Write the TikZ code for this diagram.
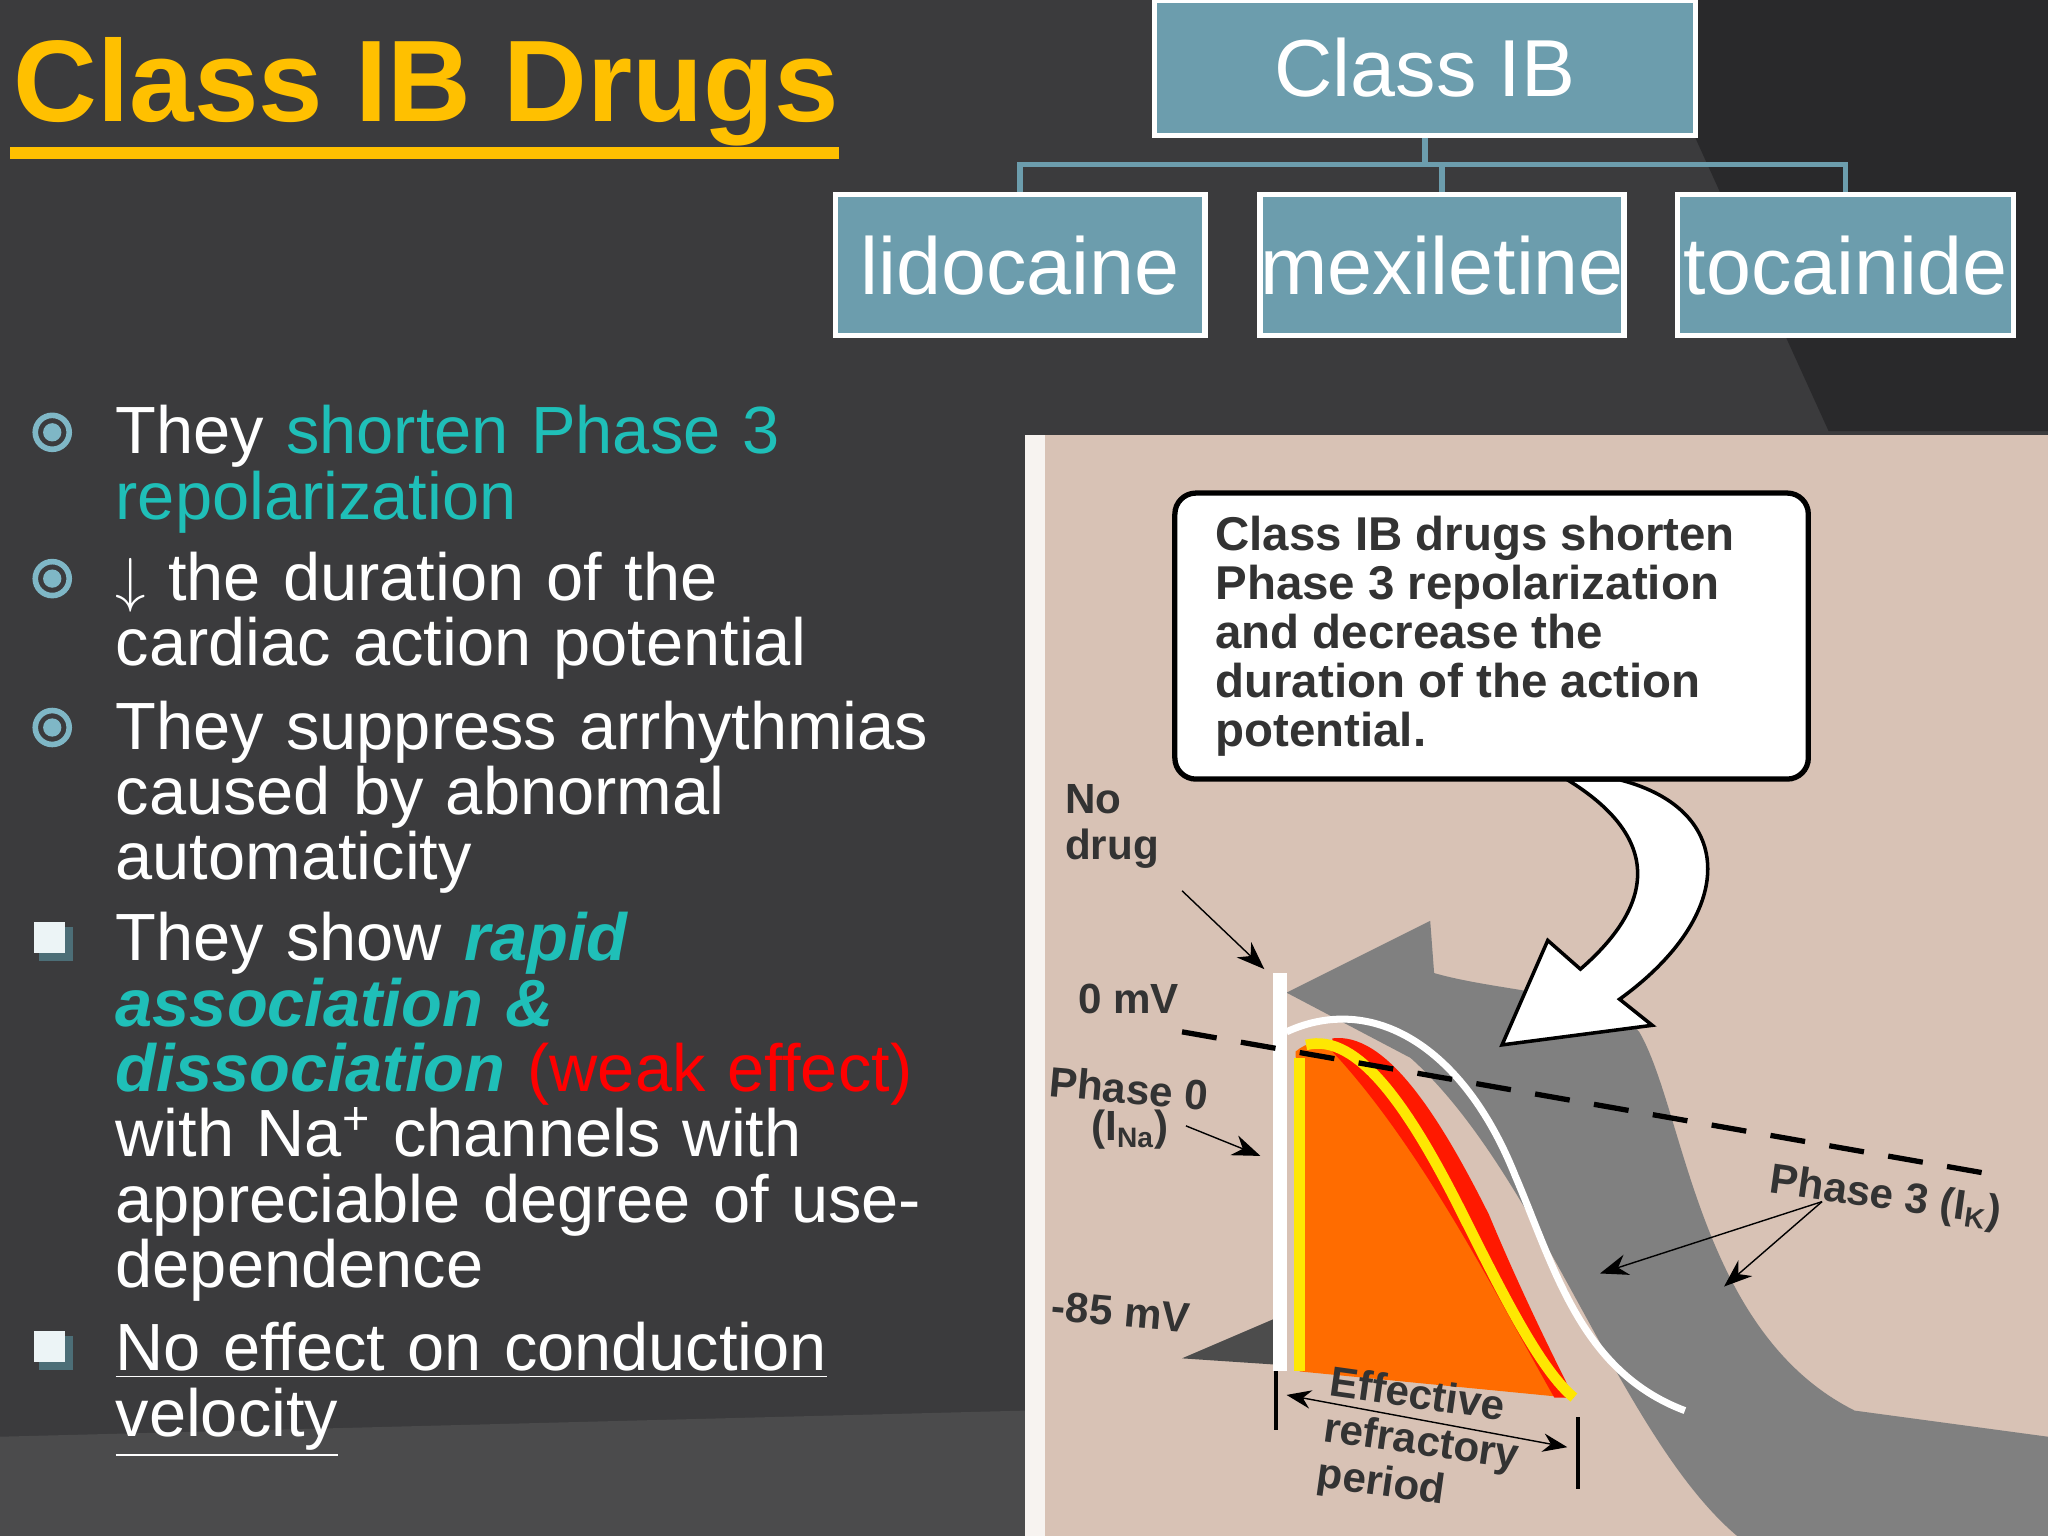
\documentclass[tikz,border=0pt]{standalone}
\usepackage{fontspec}
\setmainfont{Liberation Sans}
\usetikzlibrary{arrows.meta}
\hyphenpenalty=10000
\exhyphenpenalty=10000
\definecolor{bg}{HTML}{3B3B3D}
\definecolor{boxc}{HTML}{6C9DAD}
\definecolor{teal}{HTML}{1FBFB8}
\definecolor{ttl}{HTML}{FFC000}
\definecolor{photo}{HTML}{D8C2B5}
\definecolor{bul}{HTML}{7FB7C6}
\begin{document}
\begin{tikzpicture}[x=0.01306cm,y=-0.01306cm,
  drug/.style={draw=white,line width=1.5pt,fill=boxc,text=white,font=\fontsize{23}{25}\selectfont,inner sep=0pt},
  btxt/.style={anchor=north west,align=left,text width=8.3cm,text=white,font=\fontsize{19}{18.6}\selectfont,inner sep=0pt},
  lab/.style={font=\bfseries\fontsize{12}{13}\selectfont,text=black!80,align=left,inner sep=0pt}]
\useasboundingbox (0,0) rectangle (1568,1176);
\fill[bg] (0,0) rectangle (1568,1176);
\fill[black!30!bg] (1250,0) -- (1568,0) -- (1568,330) -- (1400,330) -- cycle;
\fill[white!8!bg] (0,1100) -- (785,1080) -- (785,1176) -- (0,1176) -- cycle;
% title
\node[anchor=west,text=ttl,font=\bfseries\fontsize{33}{35}\selectfont,inner sep=0pt] (title) at (10,70) {Class IB Drugs};
\draw[ttl,line width=3.5pt] (8,117) -- (642,117);
% tree
\node[drug,minimum width=414*0.01306cm,minimum height=103*0.01306cm] (cls) at (1091,52) {Class IB};
\node[drug,minimum width=283*0.01306cm,minimum height=108*0.01306cm] (lid) at (781,203) {lidocaine};
\node[drug,minimum width=272*0.01306cm,minimum height=108*0.01306cm] (mex) at (1104,203) {mexiletine};
\node[drug,minimum width=257*0.01306cm,minimum height=108*0.01306cm] (toc) at (1413,203) {tocainide};
\coordinate (j) at (1091,126);
\draw[boxc,line width=1.5pt] (cls.south) -- (j);
\draw[boxc,line width=1.5pt] (lid.north) |- (j) -| (toc.north);
\draw[boxc,line width=1.5pt] (mex.north) -- (1104,126);
% bullets
\foreach \yy in {331,443,557}{
  \draw[bul,line width=1.6pt] (40,\yy) circle (13);
  \fill[bul] (40,\yy) circle (7);}
\foreach \yy in {720,1033}{
  \fill[bul!60!black] (30,\yy-10) rectangle (56,\yy+16);
  \fill[white!85!bul] (26,\yy-14) rectangle (50,\yy+10);}
\node[btxt] (b1) at (88,310) {They \textcolor{teal}{shorten Phase 3 repolarization}};
\node[btxt] (b2) at (88,422) {$\downarrow$ the duration of the\\cardiac action potential};
\node[btxt] (b3) at (88,536) {They suppress arrhythmias caused by abnormal automaticity};
\node[btxt] (b4) at (88,698) {They show \textcolor{teal}{\bfseries\itshape rapid\\association \&\\dissociation} \textcolor{red}{(weak effect)}\\with Na\textsuperscript{+} channels with appreciable degree of use-\\dependence};
\node[btxt] (b5) at (88,1012) {\underline{No effect on conduction}\\\underline{velocity}};
% photo
\fill[photo] (785,333) rectangle (1568,1176);
\fill[white!80!photo] (785,333) rectangle (800,1176);
% ribbon
\fill[black!50] (985,760) -- (1095,705) -- (1098,745) .. controls (1150,760) and (1230,760) .. (1255,790)
  .. controls (1290,850) and (1300,1020) .. (1420,1080) -- (1568,1100) -- (1568,1176) -- (1330,1176)
  .. controls (1240,1100) and (1180,900) .. (1080,810) -- cycle;
\fill[black!70] (905,1040) -- (975,1010) -- (980,1045) -- cycle;
% orange area
\fill[orange!85!red] (992,805) .. controls (1010,790) and (1030,800) .. (1060,840)
  .. controls (1100,900) and (1150,1000) .. (1200,1070) -- (995,1050) -- cycle;
\fill[red!80!orange] (1020,795) .. controls (1060,790) and (1100,850) .. (1140,930)
  .. controls (1165,990) and (1190,1040) .. (1205,1070) -- (1190,1070)
  .. controls (1150,1000) and (1090,880) .. (1020,805) -- cycle;
\draw[yellow!90!orange,line width=3pt] (995,810) -- (995,1050);
\draw[yellow!90!orange,line width=3pt] (1000,800) .. controls (1040,790) and (1080,850) .. (1120,930) .. controls (1150,990) and (1180,1050) .. (1205,1070);
\draw[white,line width=4pt] (980,745) -- (980,1050);
\draw[white,line width=2pt] (985,790) .. controls (1050,760) and (1120,800) .. (1160,900) .. controls (1190,970) and (1210,1050) .. (1290,1080);
% dashed line
\draw[black,line width=1.5pt,dash pattern=on 10pt off 7pt] (905,790) -- (1530,900);
% callout arrow
\draw[black,line width=1pt,fill=white] (1240,597) .. controls (1330,620) and (1330,700) .. (1240,765) -- (1265,785) -- (1150,800) -- (1185,720) -- (1210,742)
  .. controls (1270,690) and (1270,640) .. (1200,597) -- cycle;
\node[draw=black,line width=1.5pt,fill=white,rounded corners=6pt,minimum width=485*0.01306cm,minimum height=219*0.01306cm] (call) at (1142,487) {};
\node[lab,anchor=north west,font=\bfseries\fontsize{13.5}{13.9}\selectfont] (ct) at (930,395) {Class IB drugs shorten\\Phase 3 repolarization\\and decrease the\\duration of the action\\potential.};
% labels
\node[lab,anchor=north west] (nod) at (815,600) {No\\drug};
\coordinate (nd) at (968,742);
\draw[-{Stealth[length=8pt]},black] (905,682) -- (nd);
\node[lab,anchor=west] (zero) at (825,765) {0 mV};
\node[lab,anchor=west,rotate=-5] (ph0) at (803,828) {Phase 0};
\node[lab,anchor=west] (ina) at (835,865) {(I\textsubscript{Na})};
\coordinate (p0) at (965,885);
\draw[-{Stealth[length=8pt]},black] (908,862) -- (p0);
\node[lab,anchor=west,rotate=-5] (m85) at (805,1000) {-85 mV};
\node[lab,anchor=west,rotate=-8] (ph3) at (1355,905) {Phase 3 (I\textsubscript{K})};
\coordinate (a1) at (1225,975);
\coordinate (a2) at (1320,985);
\draw[-{Stealth[length=8pt]},black] (1395,920) -- (a1);
\draw[-{Stealth[length=8pt]},black] (1395,920) -- (a2);
\coordinate (e1) at (985,1068);
\coordinate (e2) at (1200,1108);
\draw[{Stealth[length=7pt]}-{Stealth[length=7pt]},black] (e1) -- (e2);
\node[lab,anchor=north west,rotate=-8,align=left] (erp) at (1020,1045) {Effective\\refractory\\period};
\draw[black,line width=1pt] (977,1050) -- (977,1095);
\draw[black,line width=1pt] (1208,1085) -- (1208,1140);
\end{tikzpicture}
\end{document}
